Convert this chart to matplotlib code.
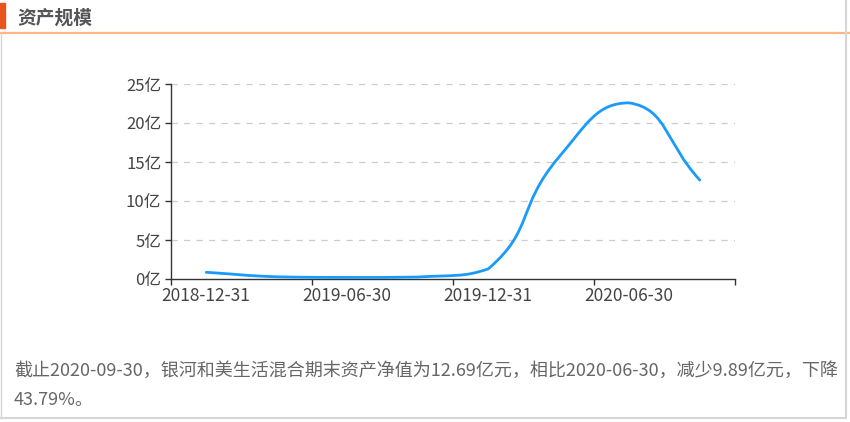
import matplotlib
matplotlib.use("Agg")
import matplotlib.pyplot as plt
import numpy as np
from matplotlib.path import Path
from matplotlib.patches import PathPatch, Rectangle
from matplotlib.lines import Line2D

plt.rcParams['font.family'] = ['Noto Sans CJK SC', 'DejaVu Sans']

# data (亿元), quarterly net asset value
dates = ['2018-12-31', '2019-03-31', '2019-06-30', '2019-09-30',
         '2019-12-31', '2020-03-31', '2020-06-30', '2020-09-30']
assets = [0.86, 0.28, 0.20, 0.25, 1.30, 15.6, 22.58, 12.69]
yticks = [0, 5, 10, 15, 20, 25]

title = '资产规模'
note1 = '截止2020-09-30，银河和美生活混合期末资产净值为12.69亿元，相比2020-06-30，减少9.89亿元，下降'
note2 = '43.79%。'

W, H = 850, 422
fig = plt.figure(figsize=(W / 100, H / 100), dpi=100)

# header
fig.patches.append(Rectangle((0, 1 - 28 / H), 5 / W, 25 / H, transform=fig.transFigure,
                             color='#e8541e', zorder=3))
fig.text(17 / W, 1 - 18 / H, title, fontsize=13.5, fontweight='bold', color='#555555',
         va='center', ha='left')
fig.lines.append(Line2D([0, 1], [1 - 33 / H] * 2, transform=fig.transFigure,
                        color='#ffb584', lw=1.6))
# frame
fig.lines.append(Line2D([845.5 / W] * 2, [1 - 418 / H, 1], transform=fig.transFigure,
                        color='#d6d6d6', lw=1.5))
fig.lines.append(Line2D([0, 845.5 / W], [1 - 418 / H] * 2, transform=fig.transFigure,
                        color='#d6d6d6', lw=1.5))
fig.lines.append(Line2D([0.6 / W] * 2, [1 - 418 / H, 1 - 34 / H], transform=fig.transFigure,
                        color='#d6d6d6', lw=1.0))

ax = fig.add_axes([171 / W, 1 - 279 / H, 564 / W, 195 / H])
x = np.arange(len(dates))
ax.set_xlim(-0.5, len(dates) - 0.5)
ax.set_ylim(0, 25)

# smooth line like echarts (bezier, constrained to the points' bbox)
pts = ax.transData.transform(np.column_stack([x, assets]))
lo, hi = pts.min(axis=0), pts.max(axis=0)
smooth = 0.5
cps = []
n = len(pts)
for i in range(n):
    p = pts[i]
    prv = pts[i - 1] if i > 0 else p
    nxt = pts[i + 1] if i < n - 1 else p
    v = (nxt - prv) * smooth
    d0 = np.hypot(*(p - prv))
    d1 = np.hypot(*(p - nxt))
    s = d0 + d1
    if s:
        d0, d1 = d0 / s, d1 / s
    c0 = np.clip(p - v * d0, lo, hi)
    c1 = np.clip(p + v * d1, lo, hi)
    cps.append((c0, c1))
verts = [pts[0]]
codes = [Path.MOVETO]
for i in range(n - 1):
    verts += [cps[i][1], cps[i + 1][0], pts[i + 1]]
    codes += [Path.CURVE4] * 3
verts = ax.transData.inverted().transform(np.array(verts))
ax.add_patch(PathPatch(Path(verts, codes), fill=False, edgecolor='#1a9bfb', lw=2.0,
                       capstyle='round', joinstyle='round', zorder=3, clip_on=False))

# grid
for v in yticks[1:]:
    ax.axhline(v, color='#cccccc', lw=0.9, ls=(0, (5, 5)), zorder=1)

for side in ['top', 'right']:
    ax.spines[side].set_visible(False)
for side in ['left', 'bottom']:
    ax.spines[side].set_color('#333333')
    ax.spines[side].set_linewidth(1.0)

ax.set_yticks(yticks, [f'{v}亿' for v in yticks])
ax.tick_params(axis='y', length=4, width=1, color='#333333', labelsize=12,
               labelcolor='#444444', pad=3)
ax.set_xticks(np.arange(-0.5, len(dates), 2), [''] * 5)
ax.tick_params(axis='x', which='major', length=4, width=1, color='#333333')
ax.set_xticks(x[::2], dates[::2], minor=True)
ax.tick_params(axis='x', which='minor', length=0, labelsize=12.5, labelcolor='#444444', pad=6)

# footer note
fig.text(14 / W, 1 - 371 / H, note1, fontsize=13, color='#666666', va='center', ha='left')
fig.text(14 / W, 1 - 400 / H, note2, fontsize=13, color='#666666', va='center', ha='left')

fig.savefig('out.png', dpi=100)
